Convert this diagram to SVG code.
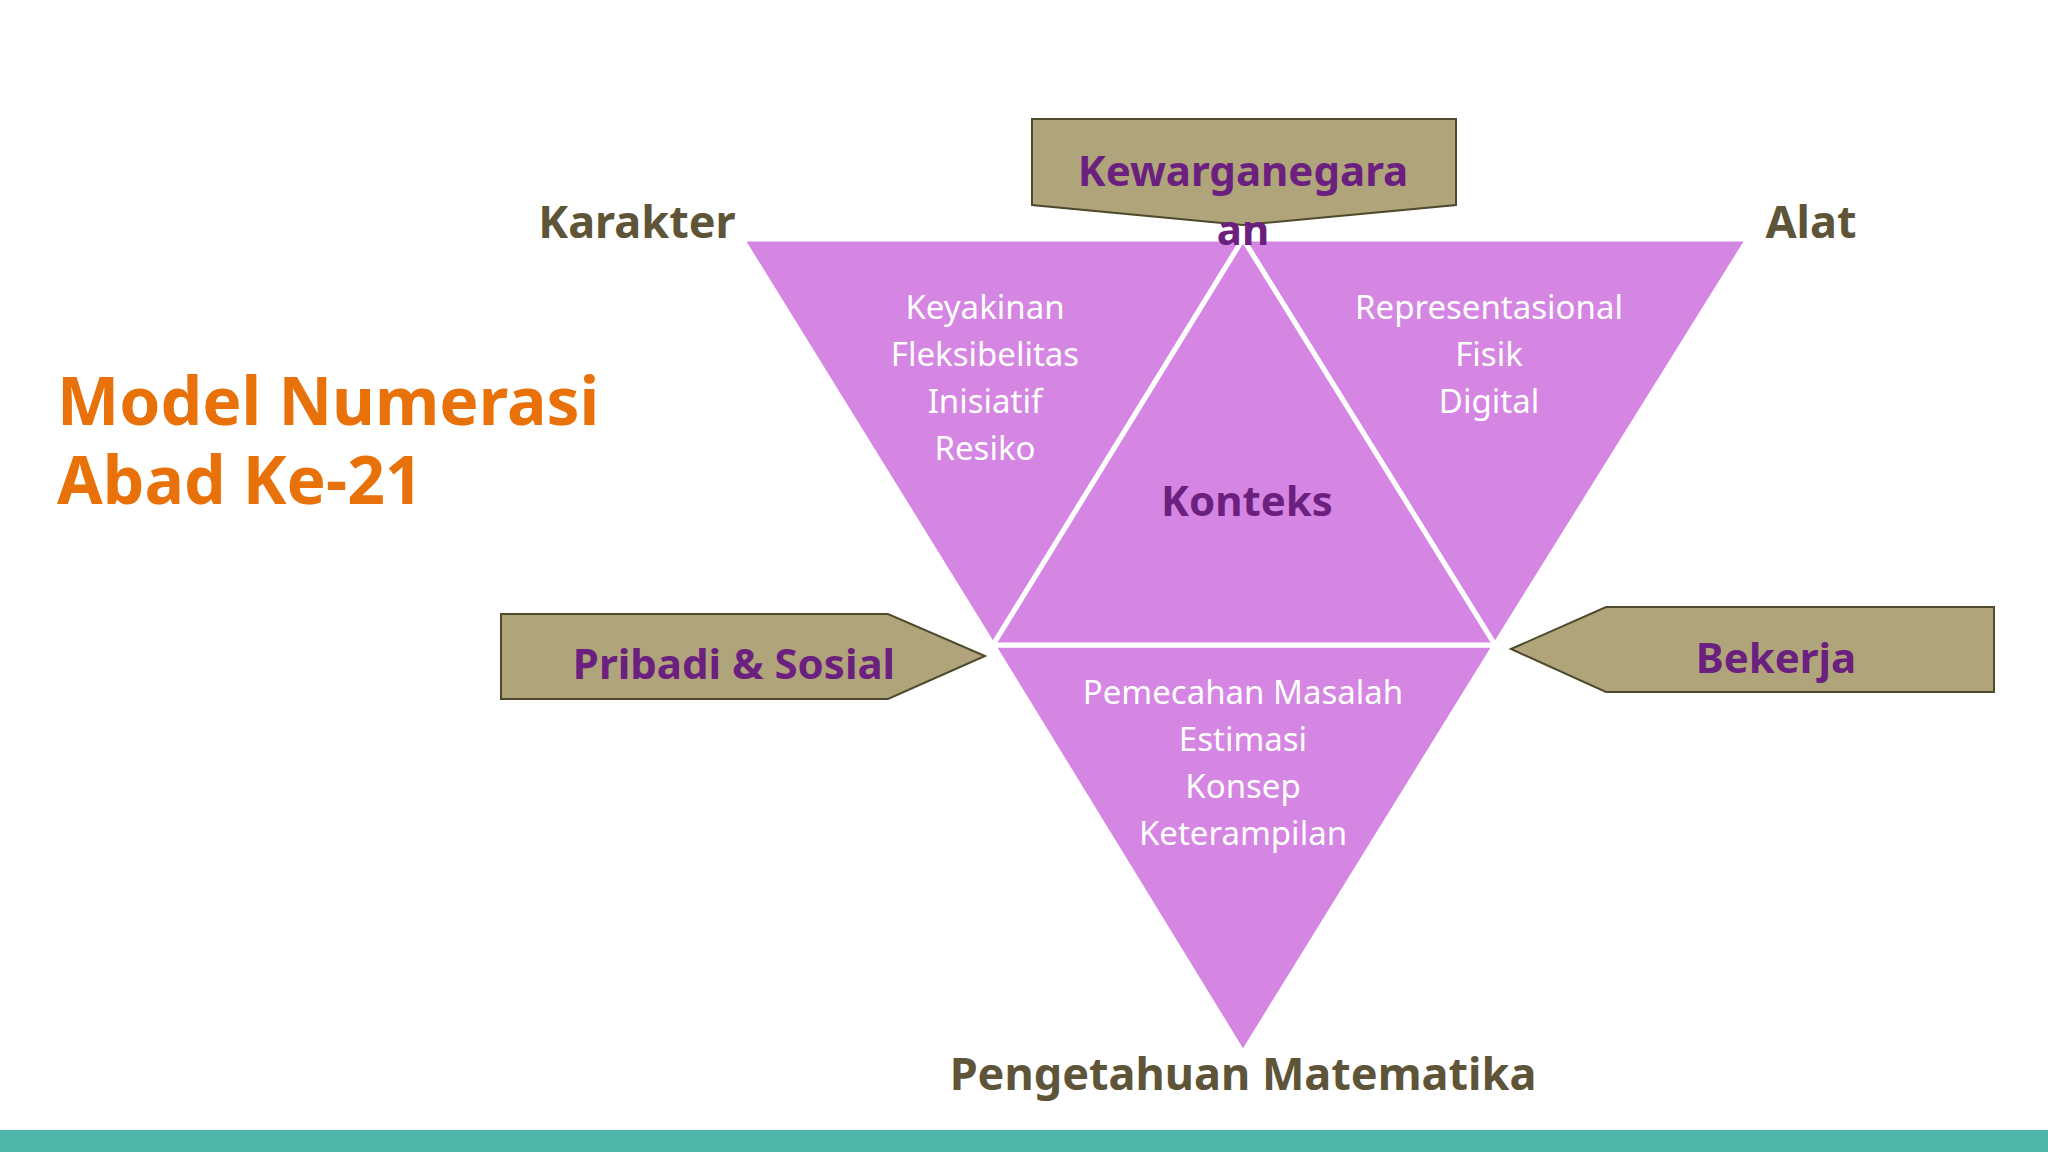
<svg xmlns="http://www.w3.org/2000/svg" width="2048" height="1152" viewBox="0 0 2048 1152">
<style>
.tri{fill:#d586e3;stroke:#fff;stroke-width:5;stroke-linejoin:miter}
.box{fill:#b0a57a;stroke:#4f4a2c;stroke-width:2}
.pl{font-family:"Noto Sans","Open Sans",sans-serif;font-weight:bold;font-size:42px;fill:#6b1f7e;text-anchor:middle}
.lb{font-family:"Noto Sans","Open Sans",sans-serif;font-weight:bold;font-size:45px;fill:#5e5538;text-anchor:middle}
.wt{font-family:"Noto Sans","Open Sans",sans-serif;font-size:33px;fill:#ffffff;text-anchor:middle}
.tt{font-family:"Noto Sans","Open Sans",sans-serif;font-weight:bold;font-size:66px;fill:#e8710a}
</style>
<rect width="2048" height="1152" fill="#fff"/>
<rect x="0" y="1130" width="2048" height="22" fill="#4db6a8"/>
<g id="title"><text class="tt" x="57" y="425">Model Numerasi</text><text class="tt" x="57" y="504">Abad Ke-21</text></g>
<g id="triangles">
<polygon class="tri" points="742,239 1243,239 993,645"/>
<polygon class="tri" points="1243,239 1748,239 1495,645"/>
<polygon class="tri" points="993,645 1495,645 1243,1053"/>
<polygon class="tri" points="1243,239 993,645 1495,645"/>
</g>
<g id="karakter-list"><text class="wt" x="985" y="319">Keyakinan</text><text class="wt" x="985" y="366">Fleksibelitas</text><text class="wt" x="985" y="413">Inisiatif</text><text class="wt" x="985" y="460">Resiko</text></g>
<g id="alat-list"><text class="wt" x="1489" y="319">Representasional</text><text class="wt" x="1489" y="366">Fisik</text><text class="wt" x="1489" y="413">Digital</text></g>
<g id="mat-list"><text class="wt" x="1243" y="704">Pemecahan Masalah</text><text class="wt" x="1243" y="751">Estimasi</text><text class="wt" x="1243" y="798">Konsep</text><text class="wt" x="1243" y="845">Keterampilan</text></g>
<g id="konteks"><text class="pl" x="1247" y="516">Konteks</text></g>
<g id="kewarganegaraan"><polygon class="box" points="1032,119 1456,119 1456,205 1243,225 1032,205"/><text class="pl" x="1243" y="186">Kewarganegara</text><text class="pl" x="1243" y="245">an</text></g>
<g id="pribadi"><polygon class="box" points="501,614 888,614 985,656 888,699 501,699"/><text class="pl" x="734" y="679">Pribadi &amp; Sosial</text></g>
<g id="bekerja"><polygon class="box" points="1511,649 1606,607 1994,607 1994,692 1606,692"/><text class="pl" x="1776" y="673">Bekerja</text></g>
<g id="labels"><text class="lb" x="637" y="238">Karakter</text><text class="lb" x="1811" y="238">Alat</text><text class="lb" x="1243" y="1090">Pengetahuan Matematika</text></g>
<g id="connectors"/>
</svg>
